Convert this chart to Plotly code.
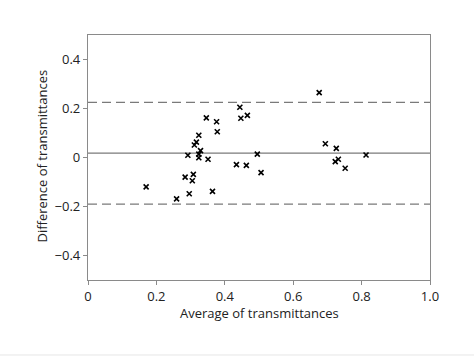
import plotly.graph_objects as go

avg = [0.170, 0.259, 0.296, 0.284, 0.305, 0.308, 0.292, 0.324, 0.324, 0.329,
       0.311, 0.317, 0.324, 0.351, 0.346, 0.376, 0.378, 0.364, 0.434, 0.463,
       0.444, 0.447, 0.466, 0.495, 0.506, 0.676, 0.694, 0.726, 0.732, 0.723,
       0.752, 0.813]
diff = [-0.120, -0.169, -0.148, -0.080, -0.095, -0.069, 0.009, -0.001, 0.014, 0.028,
        0.051, 0.063, 0.091, -0.007, 0.162, 0.146, 0.105, -0.138, -0.029, -0.032,
        0.205, 0.160, 0.172, 0.014, -0.062, 0.265, 0.056, 0.037, -0.007, -0.017,
        -0.044, 0.010]

mean_diff = 0.018
upper_loa = 0.225
lower_loa = -0.190

x_ticks = [0, 0.2, 0.4, 0.6, 0.8, 1.0]
x_ticklabels = ["0", "0.2", "0.4", "0.6", "0.8", "1.0"]
y_ticks = [-0.4, -0.2, 0, 0.2, 0.4]
y_ticklabels = ["\u22120.4", "\u22120.2", "0", "0.2", "0.4"]

fig = go.Figure()
fig.add_trace(go.Scatter(x=avg, y=diff, mode="markers",
                         marker=dict(symbol="x-thin", size=5, color="black",
                                     line=dict(width=1.6, color="black")),
                         showlegend=False))

for val, dash in [(mean_diff, "solid"), (upper_loa, "9px,5px"), (lower_loa, "9px,5px")]:
    fig.add_shape(type="line", xref="paper", x0=0, x1=1, yref="y", y0=val, y1=val,
                  line=dict(color="#7a7a7a", width=1.2, dash=dash), layer="below")

# faint frame line at the bottom of the image
fig.add_shape(type="line", xref="paper", yref="paper", x0=-0.26, x1=1.13,
              y0=-0.306, y1=-0.306, line=dict(color="#e6e6e6", width=1))

axis_common = dict(showgrid=False, zeroline=False, showline=True, linecolor="#8a8a8a",
                   linewidth=1.2, mirror=True, ticks="outside", ticklen=4,
                   tickcolor="#8a8a8a", tickfont=dict(size=13, color="#222"),
                   automargin=False)

fig.update_layout(
    width=474, height=356,
    margin=dict(l=88, r=44, t=35, b=76, autoexpand=False),
    paper_bgcolor="white", plot_bgcolor="white",
    font=dict(family="Open Sans, Noto Sans, sans-serif", color="#222"),
    xaxis=dict(range=[0, 1.0], tickvals=x_ticks, ticktext=x_ticklabels, **axis_common),
    yaxis=dict(range=[-0.5, 0.5], tickvals=y_ticks, ticktext=y_ticklabels, **axis_common),
    annotations=[
        dict(text="Average of transmittances", xref="paper", yref="paper",
             x=0.5, y=-0.135, xanchor="center", yanchor="middle",
             showarrow=False, font=dict(size=13, color="#222")),
        dict(text="Difference of transmittances", xref="paper", yref="paper",
             x=-0.1345, y=0.504, xanchor="center", yanchor="middle", textangle=-90,
             showarrow=False, font=dict(size=13, color="#222")),
    ],
)

fig.write_html("out.html", config={"displayModeBar": False},
               post_script="document.body.style.margin='0';document.body.style.overflow='hidden';")
